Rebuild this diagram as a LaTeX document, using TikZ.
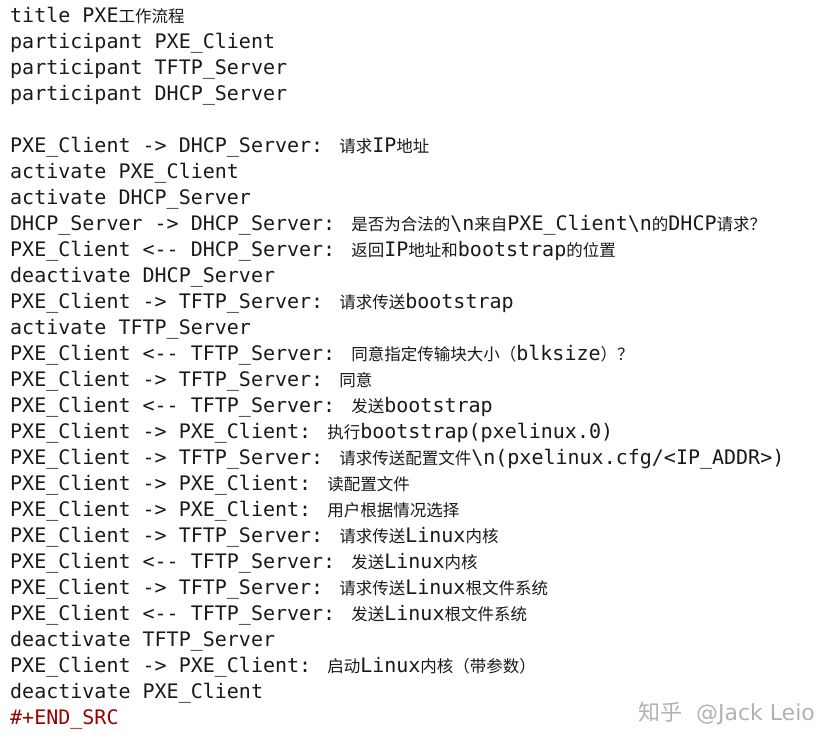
\documentclass[tikz,border=0pt]{standalone}
\usepackage{fontspec}
\setmainfont{DejaVu Sans Mono}
\newfontfamily\cjk{Noto Sans CJK SC}
\newcommand\zh[1]{{\cjk\fontsize{16.5pt}{16pt}\selectfont #1}}
\newcommand\ret{<-{}-}
\tikzset{
  codeline/.style={anchor=base west, inner sep=0pt, font=\fontsize{20pt}{24pt}\selectfont, text=black!90},
  mark line/.style={codeline, text=red!60!black},
  watermark/.style={anchor=base east, inner sep=0pt, text=black!30, font=\fontsize{22pt}{24pt}\selectfont}
}
\begin{document}
\begin{tikzpicture}[x=1pt,y=1pt]
\useasboundingbox (0,0) rectangle (837,-744);

\pgfmathsetmacro\x{10}

% code listing
\node[codeline] (l0)  at (\x,-22)  {title PXE\zh{工作流程}};
\node[codeline] (l1)  at (\x,-48)  {participant PXE\_Client};
\node[codeline] (l2)  at (\x,-74)  {participant TFTP\_Server};
\node[codeline] (l3)  at (\x,-100) {participant DHCP\_Server};
\node[codeline] (l5)  at (\x,-152) {PXE\_Client -> DHCP\_Server: \zh{请求}IP\zh{地址}};
\node[codeline] (l6)  at (\x,-178) {activate PXE\_Client};
\node[codeline] (l7)  at (\x,-204) {activate DHCP\_Server};
\node[codeline] (l8)  at (\x,-230) {DHCP\_Server -> DHCP\_Server: \zh{是否为合法的}\textbackslash n\zh{来自}PXE\_Client\textbackslash n\zh{的}DHCP\zh{请求？}};
\node[codeline] (l9)  at (\x,-256) {PXE\_Client \ret{} DHCP\_Server: \zh{返回}IP\zh{地址和}bootstrap\zh{的位置}};
\node[codeline] (l10) at (\x,-282) {deactivate DHCP\_Server};
\node[codeline] (l11) at (\x,-308) {PXE\_Client -> TFTP\_Server: \zh{请求传送}bootstrap};
\node[codeline] (l12) at (\x,-334) {activate TFTP\_Server};
\node[codeline] (l13) at (\x,-360) {PXE\_Client \ret{} TFTP\_Server: \zh{同意指定传输块大小（}blksize\zh{）？}};
\node[codeline] (l14) at (\x,-386) {PXE\_Client -> TFTP\_Server: \zh{同意}};
\node[codeline] (l15) at (\x,-412) {PXE\_Client \ret{} TFTP\_Server: \zh{发送}bootstrap};
\node[codeline] (l16) at (\x,-438) {PXE\_Client -> PXE\_Client: \zh{执行}bootstrap(pxelinux.0)};
\node[codeline] (l17) at (\x,-464) {PXE\_Client -> TFTP\_Server: \zh{请求传送配置文件}\textbackslash n(pxelinux.cfg/<IP\_ADDR>)};
\node[codeline] (l18) at (\x,-490) {PXE\_Client -> PXE\_Client: \zh{读配置文件}};
\node[codeline] (l19) at (\x,-516) {PXE\_Client -> PXE\_Client: \zh{用户根据情况选择}};
\node[codeline] (l20) at (\x,-542) {PXE\_Client -> TFTP\_Server: \zh{请求传送}Linux\zh{内核}};
\node[codeline] (l21) at (\x,-568) {PXE\_Client \ret{} TFTP\_Server: \zh{发送}Linux\zh{内核}};
\node[codeline] (l22) at (\x,-594) {PXE\_Client -> TFTP\_Server: \zh{请求传送}Linux\zh{根文件系统}};
\node[codeline] (l23) at (\x,-620) {PXE\_Client \ret{} TFTP\_Server: \zh{发送}Linux\zh{根文件系统}};
\node[codeline] (l24) at (\x,-646) {deactivate TFTP\_Server};
\node[codeline] (l25) at (\x,-672) {PXE\_Client -> PXE\_Client: \zh{启动}Linux\zh{内核（带参数）}};
\node[codeline] (l26) at (\x,-698) {deactivate PXE\_Client};
\node[mark line] (l27) at (\x,-724) {\#+END\_SRC};

% watermark
\node[watermark] (wm) at (815,-720) {{\cjk 知乎} {\fontspec{DejaVu Sans}@Jack Leio}};

\end{tikzpicture}
\end{document}
